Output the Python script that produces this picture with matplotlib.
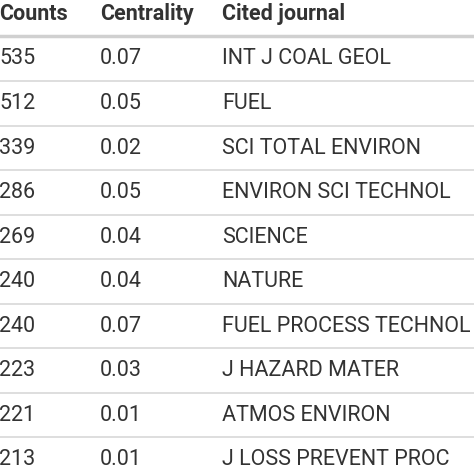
import matplotlib
matplotlib.use("Agg")
import matplotlib.pyplot as plt

headers = ["Counts", "Centrality", "Cited journal"]
counts = [535, 512, 339, 286, 269, 240, 240, 223, 221, 213]
centrality = ["0.07", "0.05", "0.02", "0.05", "0.04", "0.04", "0.07", "0.03", "0.01", "0.01"]
journals = ["INT J COAL GEOL", "FUEL", "SCI TOTAL ENVIRON", "ENVIRON SCI TECHNOL",
            "SCIENCE", "NATURE", "FUEL PROCESS TECHNOL", "J HAZARD MATER",
            "ATMOS ENVIRON", "J LOSS PREVENT PROC"]

W, H = 474, 473
fig = plt.figure(figsize=(W/100, H/100), dpi=100)
ax = fig.add_axes([0, 0, 1, 1])
ax.set_xlim(0, W)
ax.set_ylim(H, 0)
ax.axis("off")

col_x = [-1, 100, 222]
color = "#333333"
fs = 15.5
for x, h in zip(col_x, headers):
    ax.text(x, 14, h, fontsize=fs, fontfamily="Roboto", fontweight="bold",
            color=color, va="center", ha="left")
ax.axhline(36, color="#d0d0d0", lw=2.5)
step = 44.5
for i, (c, ce, j) in enumerate(zip(counts, centrality, journals)):
    y = 59 + step * i
    for x, t in zip(col_x, [str(c), ce, j]):
        ax.text(x, y, t, fontsize=fs, fontfamily="Roboto", color=color,
                va="center", ha="left")
    if i < len(counts) - 1:
        ax.axhline(y + step / 2, color="#d8d8d8", lw=1.2)

fig.savefig("out.png", dpi=100)
